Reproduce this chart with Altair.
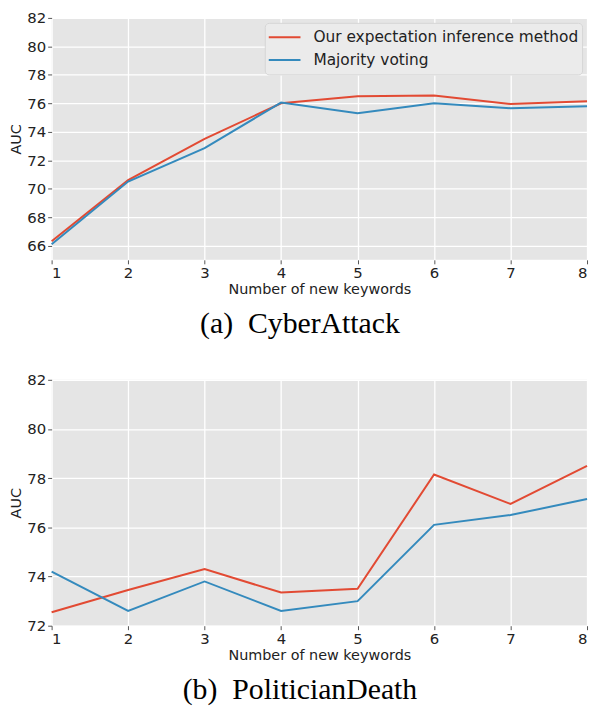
import altair as alt
import pandas as pd

keywords = [1, 2, 3, 4, 5, 6, 7, 8]
methods = ['Our expectation inference method', 'Majority voting']
colors = ['#E24A33', '#348ABD']

# (a) CyberAttack
cyber_ours = [66.3, 70.6, 73.5, 76.0, 76.5, 76.55, 75.95, 76.15]
cyber_vote = [66.1, 70.5, 72.85, 76.05, 75.3, 76.0, 75.65, 75.8]
cyber_ticks = [66, 68, 70, 72, 74, 76, 78, 80, 82]

# (b) PoliticianDeath
death_ours = [72.55, 73.45, 74.3, 73.35, 73.5, 78.15, 76.95, 78.5]
death_vote = [74.2, 72.6, 73.8, 72.6, 73.0, 76.1, 76.5, 77.15]
death_ticks = [72, 74, 76, 78, 80, 82]


def make_panel(ours, vote, caption, y_domain, y_ticks, height):
    df = pd.DataFrame({
        'keywords': keywords * 2,
        'auc': ours + vote,
        'method': [methods[0]] * len(keywords) + [methods[1]] * len(keywords),
    })
    lines = alt.Chart(df).mark_line(strokeWidth=2).encode(
        x=alt.X('keywords:Q', title='Number of new keywords',
                scale=alt.Scale(domain=[1, 8], nice=False),
                axis=alt.Axis(values=keywords, format='d')),
        y=alt.Y('auc:Q', title='AUC',
                scale=alt.Scale(domain=y_domain, nice=False, zero=False),
                axis=alt.Axis(values=y_ticks)),
        color=alt.Color('method:N', sort=methods,
                        scale=alt.Scale(domain=methods, range=colors),
                        legend=alt.Legend(
                            title=None, orient='top-right', offset=5,
                            fillColor='#ebebeb', strokeColor='#d6d6d6',
                            cornerRadius=4, padding=3,
                            labelFont='DejaVu Sans', labelFontSize=15.5,
                            labelColor='#222222', labelLimit=400,
                            labelOffset=12, symbolType='stroke',
                            symbolSize=1024, symbolStrokeWidth=2,
                            clipHeight=23, rowPadding=0)),
    ).properties(
        width=540,
        height=height,
        title=alt.TitleParams(caption, orient='bottom', anchor='middle',
                              frame='bounds', font='Liberation Serif',
                              fontSize=30, fontWeight='normal',
                              color='#000000', offset=13),
    )
    return lines


top = make_panel(cyber_ours, cyber_vote, '(a)\u00a0 CyberAttack', [65, 82], cyber_ticks, 244)
bottom = make_panel(death_ours, death_vote, '(b)\u00a0 PoliticianDeath', [72, 82], death_ticks, 248)

chart = alt.vconcat(top, bottom, spacing=34).properties(
    padding=0,
    background='white',
).configure_view(
    fill='#E5E5E5', stroke=None,
).configure_axis(
    domain=False,
    grid=True, gridColor='#ffffff', gridWidth=1.3,
    tickColor='#555555', tickSize=4, tickWidth=1,
    labelFont='DejaVu Sans', labelFontSize=15, labelColor='#222222',
    labelPadding=2,
    titleFont='DejaVu Sans', titleFontSize=14.5, titleFontWeight='normal',
    titleColor='#222222',
).configure_axisY(
    titlePadding=3,
).configure_axisX(
    titlePadding=2,
)

chart.save('out.html', embed_options={'renderer': 'svg', 'actions': False})
